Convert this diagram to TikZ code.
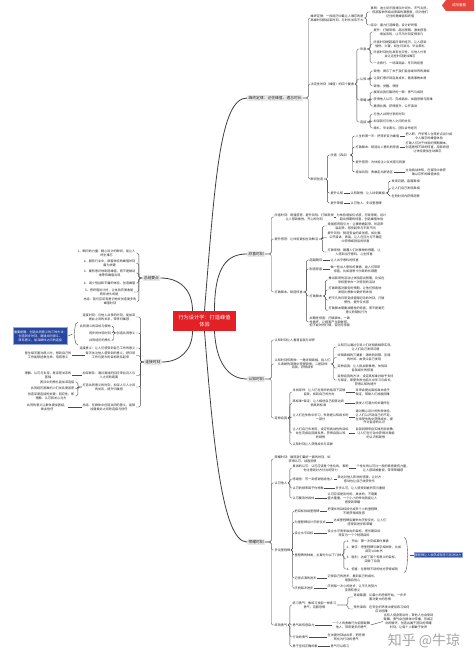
\documentclass[tikz,border=0pt]{standalone}
\usepackage{fontspec}
\setmainfont{Noto Sans CJK SC}
\definecolor{tagred}{RGB}{230,70,60}
\definecolor{ctrred}{RGB}{226,32,38}
\definecolor{bluefill}{RGB}{40,70,160}
\definecolor{blueedge}{RGB}{150,170,225}
\begin{document}
\begin{tikzpicture}[x=1pt,y=-1pt,
  tx/.style={font=\fontsize{3.1}{3.85}\selectfont, inner sep=0.5pt, align=center, text=black!85, anchor=west},
  tl/.style={tx, anchor=east},
  brn/.style={fill=black!9, rounded corners=1pt, inner sep=1.3pt, font=\fontsize{3.8}{4.6}\selectfont, text=black!85},
  rb/.style={brn, anchor=west},
  lb/.style={brn, anchor=east},
  ln/.style={draw=black!70, line width=0.4pt, rounded corners=1.5pt},
  mc/.style={draw=black!75, line width=0.8pt},
  blu/.style={fill=bluefill, draw=blueedge, line width=0.6pt, text=white, font=\fontsize{3.1}{3.85}\selectfont, align=center, inner xsep=1pt, inner ysep=2pt},
  ctr/.style={fill=ctrred, text=white, font=\fontsize{5.2}{7.5}\selectfont, align=center, minimum width=63pt, minimum height=20pt, inner sep=1pt},
]
\useasboundingbox (0,0) rectangle (474,658);
\fill[white] (0,0) rectangle (474,658);

% tag
\fill[tagred] (446,0) -- (474,0) -- (474,11) -- (446,11) -- (442,5.5) -- cycle;
\node[font=\fontsize{3.6}{4}\selectfont, text=white] (tag) at (459,5) {试用看看};

% centre
\node[ctr] (c) at (204.5,321) {行为设计学：打造峰值\\体验};

% ---------------- branch 1 ----------------
\node[rb] (b1) at (247,98) {峰终定律：记住峰值、遗忘时长};
\node[tx] (b1a) at (310,18) {峰终定律：一段经历中最让人难忘的是\\高峰时刻和结束时刻，与时长关系不大};
\node[tx] (b1a1) at (370,12) {事例：迪士尼乐园排队时间长、天气炎热，\\但游客依然给出很高的满意度，因为他们\\记住的是峰值和终值};
\node[tx] (b1a2) at (370,25) {结论：着力打造峰值，设计好终值};
\node[tx] (b1b) at (310,84) {决定性时刻（峰值）的四个要素};
\node[tx] (k1) at (359.5,49) {欣喜};
\node[tx] (k2) at (359.5,79) {认知};
\node[tx] (k3) at (359.5,100) {荣耀};
\node[tx] (k4) at (359.5,122) {连接};
\node[tx] (k1a) at (373,32) {提升：打破常规、超出预期、激发感官、\\增加风险，让平凡时刻变得非凡};
\node[tx] (k1b) at (373,44) {欣喜时刻是超越日常的经历，让人感到\\愉悦、兴奋，如生日派对、毕业典礼};
\node[tx] (k1c) at (373,54) {欣喜时刻往往具有社交性，与他人分享\\会让这些时刻更加难忘};
\node[tx] (k1d) at (373,63) {一次旅行、一场演唱会、冬日的初雪};
\node[tx] (k2a) at (373,71) {顿悟：揭示了关于我们自身或世界的真相};
\node[tx] (k2b) at (373,78) {让我们意识到自身成长，看清事物本质};
\node[tx] (k2c) at (373,86) {顿悟、觉醒、领悟};
\node[tx] (k3a) at (373,92) {展现出我们最好的一面：勇气与成就};
\node[tx] (k3b) at (373,99) {获得他人认可、完成挑战、战胜恐惧与困难};
\node[tx] (k3c) at (373,106) {赢得比赛、获得晋升、公开演讲};
\node[tx] (k4a) at (373,114) {与他人共同分享的时刻};
\node[tx] (k4b) at (373,121) {加深我们与他人之间的关系};
\node[tx] (k4c) at (373,128) {婚礼、毕业典礼、团队合作经历};
\node[tx] (b1c) at (310,179) {瞬间创造};
\node[tx] (m1) at (330,155) {欣喜（四点）};
\node[tx] (m1a) at (355,136) {人生的第一天：把转折变为峰值};
\node[tx] (m1ar) at (405,136) {把入职、开学等人生转折点设计成\\令人难忘的峰值体验};
\node[tx] (m1b) at (355,147) {打破脚本：制造出人意料的惊喜};
\node[tx] (m1br) at (405,147) {打破人们对于体验的预期脚本，\\创造意想不到的惊喜，用新奇感\\让体验更加生动难忘};
\node[tx] (m1c) at (355,162) {提升感官：为体验注入仪式感与刺激};
\node[tx] (m1d) at (355,172) {增加风险：勇敢走出舒适区};
\node[tx] (m1dr) at (405,172) {主动挑战未知，在冒险中收获\\难以忘怀的峰值体验};
\node[tx] (m2) at (330,193) {提升认知};
\node[tx] (m2r) at (350,193) {认知顿悟：让人绊倒真相};
\node[tx] (m2a) at (391,181) {发现问题，直面真相};
\node[tx] (m2b) at (391,188.5) {让人们自己发现真相};
\node[tx] (m2c) at (391,196) {在短时间内获得洞察};
\node[tx] (m3) at (330,203) {提升荣耀};
\node[tx] (m3r) at (350,203) {认可他人、多设里程碑};

\foreach \k in {b1a,b1b,b1c} {\draw[ln] (b1.east) -- ++(5,0) |- (\k.west);}
\foreach \k in {b1a1,b1a2} {\draw[ln] (b1a.east) -- ++(2.5,0) |- (\k.west);}
\foreach \k in {k1,k2,k3,k4} {\draw[ln] (b1b.east) -- ++(2,0) |- (\k.west);}
\foreach \k in {k1a,k1b,k1c,k1d} {\draw[ln] (k1.east) -- ++(3,0) |- (\k.west);}
\foreach \k in {k2a,k2b,k2c} {\draw[ln] (k2.east) -- ++(3,0) |- (\k.west);}
\foreach \k in {k3a,k3b,k3c} {\draw[ln] (k3.east) -- ++(3,0) |- (\k.west);}
\foreach \k in {k4a,k4b,k4c} {\draw[ln] (k4.east) -- ++(3,0) |- (\k.west);}
\foreach \k in {m1,m2,m3} {\draw[ln] (b1c.east) -- ++(3.5,0) |- (\k.west);}
\foreach \k in {m1a,m1b,m1c,m1d} {\draw[ln] (m1.east) -- ++(2.5,0) |- (\k.west);}
\draw[ln] (m1a.east) -- (m1ar.west);
\draw[ln] (m1b.east) -- (m1br.west);
\draw[ln] (m1d.east) -- (m1dr.west);
\draw[ln] (m2.east) -- (m2r.west);
\draw[ln] (m3.east) -- (m3r.west);
\foreach \k in {m2a,m2b,m2c} {\draw[ln] (m2r.east) -- ++(3,0) |- (\k.west);}

% ---------------- branch 2 ----------------
\node[rb] (b2) at (247,254) {欣喜时刻};
\node[tx] (b2a) at (274,217) {欣喜时刻：增强感官、提升风险、打破常规\\让人感到愉悦、开心的时刻};
\node[tx] (b2ar) at (336,217) {为体验增加仪式感，打破常规，设计\\超出预期的惊喜，创造峰值体验};
\node[tx] (b2b) at (274,239) {提升感官：让体验更加生动鲜活};
\node[tx] (b2b1) at (327,226) {增强感官吸引力：让事物看起来、听起来\\尝起来、感觉起来与平常不同};
\node[tx] (b2b2) at (327,237.5) {提升风险：制造有益的紧张感，如比赛、\\公开演讲、表演，让人在压力与不确定\\中获得成就后的欣喜};
\node[tx] (b2b3) at (327,252) {打破常规：颠覆人们对事物的预期，让\\人感到出乎意料，心生惊喜};
\node[tx] (b2c) at (274,292) {打破脚本，制造惊喜};
\node[tx] (c21) at (309,260) {超越期待};
\node[tx] (c21r) at (330,260) {让人出乎意料的惊喜};
\node[tx] (c22) at (309,269) {制造惊喜};
\node[tx] (c22r) at (330,269) {做一些出人意料的事情，给人们带来\\惊喜，比如丽思卡尔顿的长颈鹿};
\node[tx] (c23) at (309,296) {打破脚本};
\node[tx] (c23a) at (328,280) {推出新奇的活动让体验超出预期，比如在\\学校里举办一次特别的活动};
\node[tx] (c23b) at (328,290) {打破顾客对服务的预期，让他们惊喜地\\发现比想象中更好的体验};
\node[tx] (c23c) at (328,300) {把平凡的日常变成值得纪念的时刻，打破\\惯性，提升仪式感};
\node[tx] (c23d) at (328,310.5) {打破脚本需要战略性的惊喜，而不是毫无\\意义的随机行为};
\node[tx] (c24) at (309,322) {战略性惊喜：打破脚本，一致\\性破坏，让顾客产生新鲜感，\\但不能时时打破，否则无惊喜};

\foreach \k in {b2a,b2b,b2c} {\draw[ln] (b2.east) -- ++(6,0) |- (\k.west);}
\draw[ln] (b2a.east) -- (b2ar.west);
\foreach \k in {b2b1,b2b2,b2b3} {\draw[ln] (b2b.east) -- ++(3.5,0) |- (\k.west);}
\foreach \k in {c21,c22,c23,c24} {\draw[ln] (b2c.east) -- ++(3,0) |- (\k.west);}
\draw[ln] (c21.east) -- (c21r.west);
\draw[ln] (c22.east) -- (c22r.west);
\foreach \k in {c23a,c23b,c23c,c23d} {\draw[ln] (c23.east) -- ++(2.5,0) |- (\k.west);}

% ---------------- branch 3 ----------------
\node[rb] (b3) at (247,379) {认知时刻};
\node[tx] (b3a) at (274,340) {认知时刻让人看清自我与世界};
\node[tx] (b3b) at (274,364) {认知时刻有两种：一是绊倒真相，指人们\\从清晰的洞察中获得顿悟；二是延伸\\自我，获得成长};
\node[tx] (b3b1) at (337,347) {认知可以通过引导人们绊倒真相来实现，\\让人们自己发现问题};
\node[tx] (b3b2) at (337,357.5) {绊倒真相的三要素：清晰的洞察、压缩\\的时间、由受众自己发现};
\node[tx] (b3b3) at (337,368) {延伸自我：让人挑战新事物，体验到\\自我成长的惊喜};
\node[tx] (b3b4) at (337,380) {延伸自我的方法：设定高标准并给予支持\\与保证，即使失败也能从中学习与成长，\\获得认知的提升};
\node[tx] (b3c) at (274,418) {延伸自我};
\node[tx] (c31) at (292,392) {寻找导师：让人们在导师的指导下突破\\自我，找到自己的方向};
\node[tx] (c31r) at (355,392) {导师会提出高标准并给予\\保证，帮助人们战胜困难};
\node[tx] (c32) at (292,403.5) {高标准+保证：让人相信自己能够达到\\很高的标准};
\node[tx] (c32r) at (355,403.5) {激发人们潜力的关键所在};
\node[tx] (c33) at (292,417) {让人们在失败中学习，失败是认知成长的\\一部分};
\node[tx] (c33r) at (355,417) {通过精心设计的失败体验，\\让人们认识到自己的不足，\\在承受失败中获得成长，提\\升对自身的认识};
\node[tx] (c34) at (292,433) {让人们自己去发现，设定有挑战性的目标\\并在完成后回顾反思，获得自我认知\\的顿悟};
\node[tx] (c34r) at (355,433) {自我洞察来自实践而非说教，\\让人们在行动中获得对真相\\的认识和顿悟};
\node[tx] (c35) at (292,444.5) {认知时刻让人获得成长与突破};

\foreach \k in {b3a,b3b,b3c} {\draw[ln] (b3.east) -- ++(6,0) |- (\k.west);}
\foreach \k in {b3b1,b3b2,b3b3,b3b4} {\draw[ln] (b3b.east) -- ++(2.5,0) |- (\k.west);}
\foreach \k in {c31,c32,c33,c34,c35} {\draw[ln] (b3c.east) -- ++(2,0) |- (\k.west);}
\draw[ln] (c31.east) -- (c31r.west);
\draw[ln] (c32.east) -- (c32r.west);
\draw[ln] (c33.east) -- (c33r.west);
\draw[ln] (c34.east) -- (c34r.west);

% ---------------- branch 4 ----------------
\node[rb] (b4) at (247,542) {荣耀时刻};
\node[tx] (b4a) at (274,459) {荣耀时刻：展现我们最好一面的时刻，如\\获得认可、战胜恐惧};
\node[tx] (b4b) at (274,483) {认可他人};
\node[tx] (d1) at (292,468) {真诚的认可：认可应该是个性化的，表明\\你注意到对方付出的努力};
\node[tx] (d1r) at (356,468) {个性化的认可比一般的表扬更有力量，\\让人感到被重视，带来荣耀感};
\node[tx] (d2) at (292,479) {感谢信：写一封感谢信给他人};
\node[tx] (d2r) at (337,479) {表达对他人影响的感激，让对方\\感动也让自己收获快乐};
\node[tx] (d3) at (292,488) {认可的频率高于你想象};
\node[tx] (d3r) at (335,488) {多多认可，让人感受到被欣赏与重视};
\node[tx] (d4) at (292,498) {认可要及时具体};
\node[tx] (d4r) at (327,498) {认可应该是及时的、具体的，不需要\\盛大隆重，一个小小的举动就能让人\\感受到荣耀};
\node[tx] (b4c) at (274,550) {多设里程碑};
\node[tx] (e1) at (294,511) {把目标拆成里程碑};
\node[tx] (e1r) at (327,511) {把漫长的目标拆分成多个小的里程碑，\\不断获得成就感};
\node[tx] (e2) at (294,522) {为里程碑设计庆祝仪式};
\node[tx] (e2r) at (333,522) {达成里程碑后要举办庆祝仪式，让人们\\感受到进步和荣耀};
\node[tx] (e3) at (294,533) {设立水平目标};
\node[tx] (e3r) at (327,533) {设立水平而非纵向的目标，把长期目标\\转变为一个个短期目标};
\node[tx] (e4) at (294,555) {里程碑的种类，主要分为以下几种};
\node[tx] (e4a) at (346,541) {1、开始：第一次完成某件事情};
\node[tx] (e4b) at (346,549) {2、数字：把里程碑与数字相关联，比如\\读完100本书};
\node[tx] (e4c) at (346,559) {3、胜利：达成了某个有意义的目标，\\突破了自我};
\node[tx] (e4d) at (346,569) {4、惊喜：在意想不到的地方获得成就};
\node[blu, anchor=west, inner ysep=1.2pt] (blue2) at (413.5,555) {里程碑让人收获成就感与前进动力};
\node[tx] (e5) at (294,578) {记录点滴的进步};
\node[tx] (e5r) at (327,578) {记录自己的进步，看到自己的成长，\\增强自信心};
\node[tx] (e6) at (294,588.5) {庆祝每次进步};
\node[tx] (e6r) at (327,588.5) {庆祝每一次小的进步，让平凡的努力\\变得有意义};
\node[tx] (b4d) at (274,625) {练就勇气};
\node[tx] (f1) at (292,605) {练习勇气：像练习技能一样练习\\勇气，克服恐惧};
\node[tx] (f1a) at (353,597) {逐级暴露：从最小的恐惧开始，一步步\\面对更大的恐惧};
\node[tx] (f1b) at (353,609) {预先演练：在安全的环境中提前练习如何\\应对困难};
\node[tx] (f2) at (292,625) {勇气具有感染力};
\node[tx] (f2m) at (332,625) {一个人的勇敢行为能够鼓舞\\他人，带来更多的勇气};
\node[tx] (f2r) at (383,621.5) {当有人挺身而出时，其他人也会受到\\鼓舞，勇气会在群体中传播，形成正\\向的循环，创造出属于团队的荣耀\\时刻，让每个人都敢于发声};
\node[tx] (f3) at (292,637) {行动的勇气};
\node[tx] (f3r) at (327,637) {在关键时刻站出来，把恐惧\\转化为行动的勇气};
\node[tx] (f4) at (292,646.5) {勇于坚持正确的事};
\node[tx] (f4r) at (330,646.5) {勇气可以练习};

\foreach \k in {b4a,b4b,b4c,b4d} {\draw[ln] (b4.east) -- ++(6,0) |- (\k.west);}
\foreach \k in {d1,d2,d3,d4} {\draw[ln] (b4b.east) -- ++(2,0) |- (\k.west);}
\draw[ln] (d1.east) -- (d1r.west);
\draw[ln] (d2.east) -- (d2r.west);
\draw[ln] (d3.east) -- (d3r.west);
\draw[ln] (d4.east) -- (d4r.west);
\foreach \k in {e1,e2,e3,e4,e5,e6} {\draw[ln] (b4c.east) -- ++(1.8,0) |- (\k.west);}
\draw[ln] (e1.east) -- (e1r.west);
\draw[ln] (e2.east) -- (e2r.west);
\draw[ln] (e3.east) -- (e3r.west);
\draw[ln] (e5.east) -- (e5r.west);
\draw[ln] (e6.east) -- (e6r.west);
\foreach \k in {e4a,e4b,e4c,e4d} {\draw[ln] (e4.east) -- ++(2,0) |- (\k.west);}
\coordinate (s2t) at (404,537.5);
\coordinate (s2m) at (409.5,555);
\coordinate (s2b) at (404,572.5);
\draw[ln] (s2t) .. controls (408,537.5) and (407,555) .. (s2m) .. controls (407,555) and (408,572.5) .. (s2b);
\draw[ln] (s2m) -- (blue2.west);
\foreach \k in {f1,f2,f3,f4} {\draw[ln] (b4d.east) -- ++(2,0) |- (\k.west);}
\foreach \k in {f1a,f1b} {\draw[ln] (f1.east) -- ++(11,0) |- (\k.west);}
\draw[ln] (f2.east) -- (f2m.west);
\draw[ln] (f2m.east) -- (f2r.west);
\draw[ln] (f3.east) -- (f3r.west);
\draw[ln] (f4.east) -- (f4r.west);

% ---------------- left 1 ----------------
\node[lb] (L1) at (160.5,278) {总结要点};
\node[tl] (p1) at (136,253) {1、瞬间的力量：精心设计的瞬间，能让人\\终生难忘};
\node[tl] (p2) at (136,263.5) {2、服务行业中，顾客体验的峰值时刻\\最为关键};
\node[tl] (p3) at (136,273) {3、要有意识地制造峰值，而不是被动\\地等待峰值出现};
\node[tl] (p4) at (136,283) {4、减少低谷和平庸的体验，创造峰值};
\node[tl] (p5) at (134,292) {5、把终值设计好，让体验完美收尾\\而非虎头蛇尾};
\node[tl] (p6) at (137,301.5) {总结：我们应该有意识地去创造更多的\\峰值时刻};
\foreach \k in {p1,p2,p3,p4,p5,p6} {\draw[ln] (L1.west) -- ++(-3.5,0) |- (\k.east);}

% ---------------- left 2 ----------------
\node[lb] (L2) at (162,362) {连接时刻};
\node[tl] (q1) at (136,317) {连接时刻：与他人共享的时刻，能加深\\彼此之间的关系，带来归属感};
\node[tl] (q2) at (136,333) {创造共同意义};
\node[tl] (q2a) at (111.5,326) {共同奋斗的目标与使命};
\node[tl] (q2b) at (111.5,333) {同步的体验时刻};
\node[tl] (q2c) at (111.5,340.5) {共同经历的挣扎};
\node[blu, anchor=east, inner ysep=3pt] (blue1) at (68,336) {重要提醒：创造共同意义的三种方法：\\创造同步时刻、邀请共同奋斗、\\联系意义，加深群体之间的连接};
\node[tl] (q3) at (136,348) {连接意义：让人们感受到自己工作的意义};
\node[tl] (q4) at (136,355.5) {每天关注他人感受到的意义，把日常\\工作与更大的目标联系起来};
\node[tl] (q4l) at (72,355.5) {医生每天面对病人时，想到自己的\\工作能够拯救生命，倍感意义};
\node[tl] (q5) at (136,375.5) {加深联系：通过真诚的回应来拉近人与\\人之间的距离};
\node[tl] (q5l) at (72,375.5) {理解、认可与支持，是亲密关系的\\基础};
\node[tl] (q6) at (136,387) {打造共同意义的时刻，加深人与人之间\\的关系，提升归属感};
\node[tl] (q6a) at (75,382) {团队中的挣扎能加深连接};
\node[tl] (q6b) at (75,388.5) {共同经历困难的人们关系更紧密};
\node[tl] (q6c) at (75,396) {创造深度连接的关键：回应性，即\\理解、认可和关心对方};
\node[tl] (q7) at (136,407) {总结：在群体中创造共同的意义，能够\\加强彼此之间的连接与信任};
\node[tl] (q7l) at (68,407) {共同的意义让群体更加团结，\\彼此信任};
\foreach \k in {q1,q2,q3,q4,q5,q6,q7} {\draw[ln] (L2.west) -- ++(-3.5,0) |- (\k.east);}
\foreach \k in {q2a,q2b,q2c} {\draw[ln] (q2.west) -- ++(-2.5,0) |- (\k.east);}
\foreach \k in {q6a,q6b,q6c} {\draw[ln] (q6.west) -- ++(-4,0) |- (\k.east);}
\draw[ln] (q4.west) -- (q4l.east);
\draw[ln] (q5.west) -- (q5l.east);
\draw[ln] (q7.west) -- (q7l.east);
\coordinate (s1t) at (78,322);
\coordinate (s1m) at (72.5,334);
\coordinate (s1b) at (78,345);
\draw[ln] (s1t) .. controls (74,322) and (75,334) .. (s1m) .. controls (75,334) and (74,345) .. (s1b);
\draw[ln] (s1m) -- (blue1.east);

% ---------------- main curves ----------------
\draw[mc] (c.north) .. controls (215,180) and (220,98) .. (b1.west);
\draw[mc] ([xshift=10pt]c.north) .. controls (214.5,265) and (228,254) .. (b2.west);
\draw[mc] ([xshift=10pt]c.south) .. controls (216,362) and (228,379) .. (b3.west);
\draw[mc] (c.south) .. controls (213,440) and (222,542) .. (b4.west);
\draw[mc] ([xshift=-12pt]c.north) .. controls (192.5,290) and (180,278) .. (L1.east);
\draw[mc] ([xshift=-12pt]c.south) .. controls (192.5,350) and (180,362) .. (L2.east);

% watermark
\node[font=\fontsize{14}{15}\selectfont, text=black!35] (wm) at (424,641) {知乎 @牛琼};
\end{tikzpicture}
\end{document}
